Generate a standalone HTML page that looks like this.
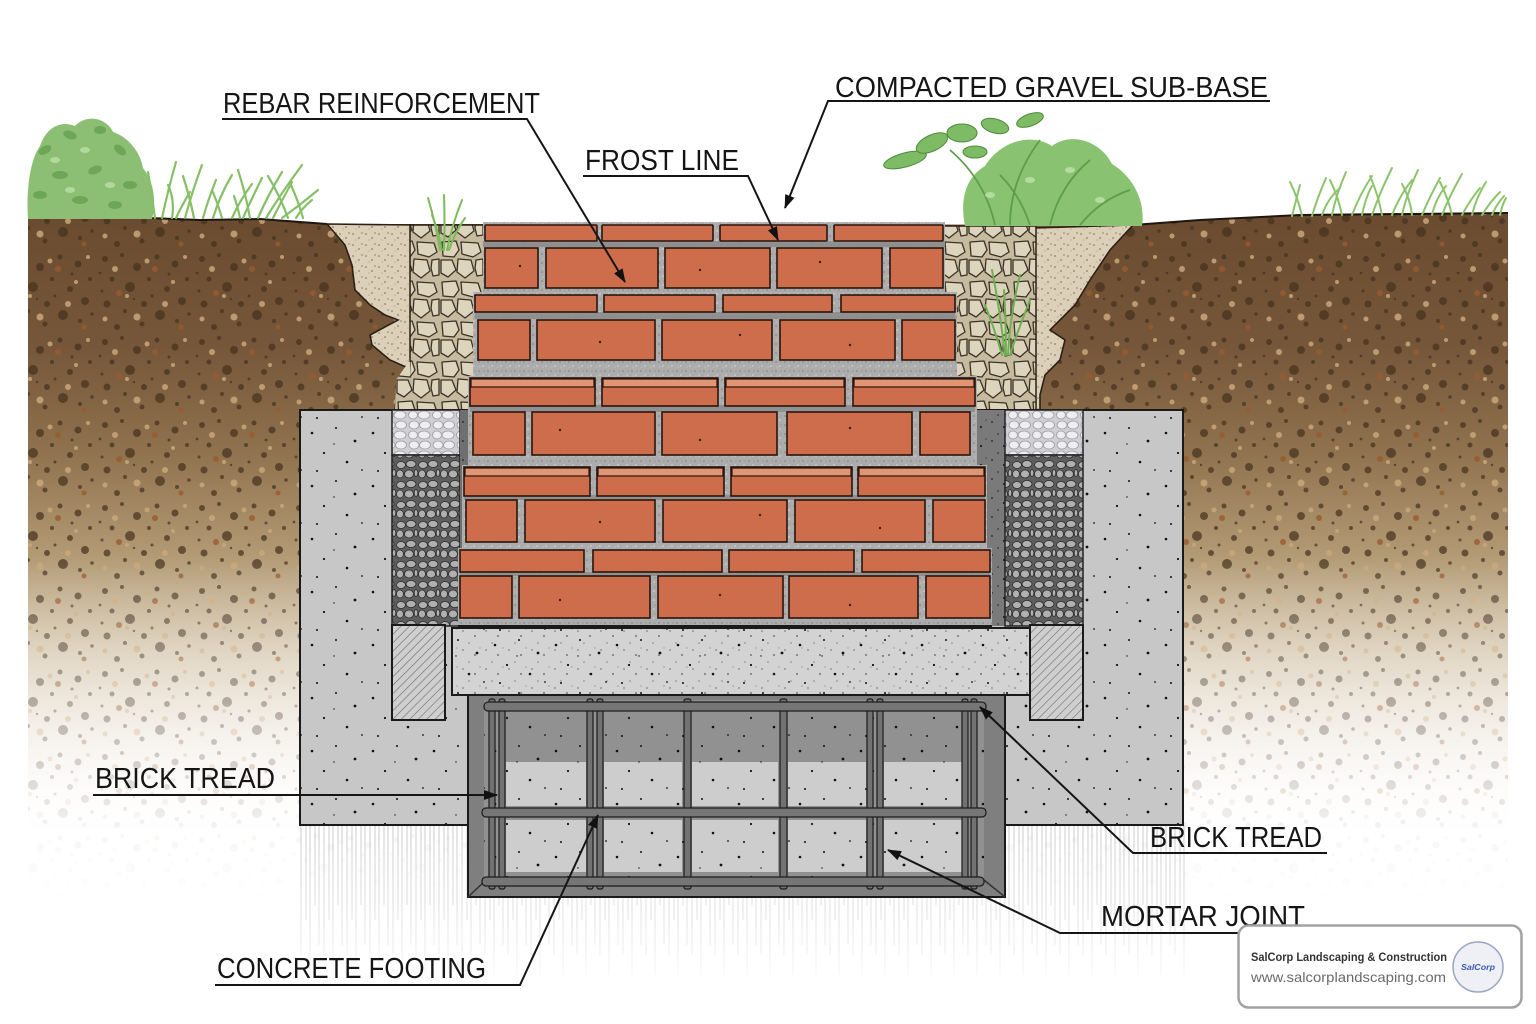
<!DOCTYPE html>
<html><head><meta charset="utf-8"><style>
html,body{margin:0;padding:0;background:#fff;width:1536px;height:1024px;overflow:hidden}
svg{display:block}
.lbl{font-family:"Liberation Sans",Arial,sans-serif;font-size:29px;fill:#151515}
</style></head><body>
<svg width="1536" height="1024" viewBox="0 0 1536 1024" xmlns="http://www.w3.org/2000/svg">
<defs>
<linearGradient id="soilG" x1="0" y1="210" x2="0" y2="900" gradientUnits="userSpaceOnUse">
<stop offset="0" stop-color="#6a4b2f"/>
<stop offset="0.2" stop-color="#76573a"/>
<stop offset="0.35" stop-color="#8f724e"/>
<stop offset="0.5" stop-color="#b29a74"/>
<stop offset="0.64" stop-color="#d3c4a9"/>
<stop offset="0.8" stop-color="#eee8df"/>
<stop offset="0.9" stop-color="#fbfaf8"/>
<stop offset="1" stop-color="#ffffff"/>
</linearGradient>
<linearGradient id="fadeW" x1="0" y1="560" x2="0" y2="900" gradientUnits="userSpaceOnUse">
<stop offset="0" stop-color="#fff" stop-opacity="0"/>
<stop offset="0.45" stop-color="#fff" stop-opacity="0.5"/>
<stop offset="0.8" stop-color="#fff" stop-opacity="0.94"/>
<stop offset="1" stop-color="#fff" stop-opacity="1"/>
</linearGradient>
<linearGradient id="hatchFade" x1="0" y1="825" x2="0" y2="1000" gradientUnits="userSpaceOnUse">
<stop offset="0" stop-color="#fff" stop-opacity="0.9"/>
<stop offset="0.55" stop-color="#fff" stop-opacity="0.45"/>
<stop offset="1" stop-color="#fff" stop-opacity="0"/>
</linearGradient>
<mask id="hatchMask"><rect x="0" y="820" width="1536" height="200" fill="url(#hatchFade)"/></mask>

<pattern id="soilDots" width="97" height="83" patternUnits="userSpaceOnUse">
<g fill="#45301d" fill-opacity="0.7">
<circle cx="8" cy="10" r="3"/><circle cx="25" cy="6" r="2"/><circle cx="40" cy="18" r="4"/><circle cx="60" cy="8" r="2.5"/>
<circle cx="78" cy="15" r="3.5"/><circle cx="90" cy="30" r="2"/><circle cx="15" cy="30" r="2.5"/><circle cx="33" cy="38" r="5"/>
<circle cx="52" cy="30" r="2"/><circle cx="70" cy="40" r="3"/><circle cx="85" cy="52" r="4"/><circle cx="10" cy="55" r="3.5"/>
<circle cx="28" cy="62" r="2"/><circle cx="47" cy="55" r="3"/><circle cx="63" cy="66" r="5"/><circle cx="80" cy="72" r="2"/>
<circle cx="20" cy="78" r="3"/><circle cx="45" cy="75" r="2.5"/><circle cx="5" cy="42" r="1.5"/><circle cx="55" cy="47" r="1.5"/>
<circle cx="92" cy="65" r="1.8"/><circle cx="37" cy="50" r="1.2"/><circle cx="72" cy="25" r="1.5"/><circle cx="3" cy="24" r="1.4"/>
</g>
<g fill="#c9a77a" fill-opacity="0.85">
<circle cx="18" cy="20" r="3"/><circle cx="50" cy="12" r="2.5"/><circle cx="68" cy="55" r="3"/><circle cx="30" cy="47" r="2"/>
<circle cx="88" cy="8" r="2"/><circle cx="40" cy="68" r="3.5"/><circle cx="8" cy="70" r="2.5"/><circle cx="76" cy="33" r="2"/>
</g>
<g fill="#9a5a2e" fill-opacity="0.8"><circle cx="58" cy="20" r="3"/><circle cx="22" cy="44" r="3"/><circle cx="84" cy="78" r="2.5"/></g>
</pattern>

<pattern id="speck" width="61" height="53" patternUnits="userSpaceOnUse">
<g fill="#111"><circle cx="7" cy="9" r="1.3"/><circle cx="31" cy="4" r="1"/><circle cx="50" cy="17" r="1.4"/><circle cx="19" cy="29" r="1.1"/>
<circle cx="42" cy="38" r="1.3"/><circle cx="57" cy="46" r="0.9"/><circle cx="12" cy="47" r="1"/><circle cx="29" cy="20" r="0.7"/></g>
</pattern>
<pattern id="speckFine" width="23" height="19" patternUnits="userSpaceOnUse">
<g fill="#222"><circle cx="3" cy="4" r="0.9"/><circle cx="15" cy="9" r="1.1"/><circle cx="9" cy="16" r="0.8"/><circle cx="20" cy="2" r="0.6"/></g>
</pattern>
<pattern id="mortar" width="9" height="9" patternUnits="userSpaceOnUse">
<rect width="9" height="9" fill="#acacac"/><circle cx="2" cy="2" r="0.8" fill="#7e7e7e"/><circle cx="6" cy="6" r="0.8" fill="#d8d8d8"/><circle cx="7" cy="2" r="0.6" fill="#888"/><circle cx="3" cy="7" r="0.6" fill="#ccc"/>
</pattern>
<pattern id="sand" width="13" height="11" patternUnits="userSpaceOnUse">
<rect width="13" height="11" fill="#dcd1b8"/><circle cx="2" cy="3" r="0.8" fill="#7a6a52"/><circle cx="8" cy="7" r="0.9" fill="#8f7f66"/><circle cx="11" cy="2" r="0.6" fill="#5e513f"/><circle cx="5" cy="9" r="0.6" fill="#a99a80"/>
</pattern>
<pattern id="stones" width="44" height="40" patternUnits="userSpaceOnUse">
<rect width="44" height="40" fill="#c7bb9f"/>
<g fill="#ddd4be" stroke="#3a3224" stroke-width="1.3" stroke-linejoin="round">
<path d="M2,2 L16,1 L19,10 L14,17 L3,16 Z"/>
<path d="M21,2 L38,3 L41,12 L33,17 L22,14 Z"/>
<path d="M1,20 L12,20 L16,30 L8,37 L1,33 Z"/>
<path d="M18,19 L31,20 L34,31 L25,38 L17,32 Z"/>
<path d="M36,20 L43,19 L43,35 L37,36 L35,28 Z"/>
</g>
</pattern>
<pattern id="darkGravel" width="22" height="20" patternUnits="userSpaceOnUse">
<rect width="22" height="20" fill="#5e5e5e"/>
<g fill="#b0b0b0" stroke="#2b2b2b" stroke-width="0.8">
<ellipse cx="5" cy="5" rx="4.5" ry="3.5"/><ellipse cx="15" cy="4" rx="5" ry="3.5"/><ellipse cx="4" cy="14" rx="3.5" ry="4"/><ellipse cx="13" cy="14" rx="4.5" ry="4"/><ellipse cx="20" cy="13" rx="1.8" ry="3.5"/>
</g>
</pattern>
<pattern id="lightGravel" width="24" height="20" patternUnits="userSpaceOnUse">
<rect width="24" height="20" fill="#cfd0d4"/>
<g fill="#eeeef1" stroke="#9b9b9f" stroke-width="0.8">
<ellipse cx="6" cy="5" rx="5" ry="4"/><ellipse cx="17" cy="5" rx="5.5" ry="4"/><ellipse cx="5" cy="15" rx="4.5" ry="4"/><ellipse cx="16" cy="15" rx="6" ry="4"/>
</g>
</pattern>
<pattern id="hatch" width="6" height="6" patternUnits="userSpaceOnUse" patternTransform="rotate(45)">
<rect width="6" height="6" fill="#cfcfcf"/><line x1="0" y1="0" x2="0" y2="6" stroke="#6e6e6e" stroke-width="1.2"/>
</pattern>
<pattern id="vlines" x="0" y="825" width="23" height="200" patternUnits="userSpaceOnUse">
<g stroke="#bdbdbd" stroke-width="0.9">
<line x1="2" y1="0" x2="2" y2="130"/><line x1="7" y1="0" x2="7" y2="95"/><line x1="11" y1="0" x2="11" y2="150"/>
<line x1="16" y1="0" x2="16" y2="80"/><line x1="20" y1="0" x2="20" y2="120"/>
</g>
</pattern>
<marker id="arr" markerUnits="userSpaceOnUse" markerWidth="14" markerHeight="10" refX="13" refY="5" orient="auto">
<path d="M0,0 L14,5 L0,10 Z" fill="#111"/>
</marker>
<clipPath id="soilClip">
<path d="M28,218 L100,216 L200,220 L260,219 L327,224 L700,224 L1133,225 L1200,220 L1300,215 L1508,213 L1508,910 L28,910 Z"/>
</clipPath>
</defs>

<!-- SOIL -->
<g clip-path="url(#soilClip)">
<rect x="28" y="205" width="1480" height="705" fill="url(#soilG)"/>
<rect x="28" y="205" width="1480" height="705" fill="url(#soilDots)"/>
<rect x="28" y="560" width="1480" height="350" fill="url(#fadeW)"/>
</g>
<path d="M28,218 L100,216 L200,220 L260,219 L327,224" fill="none" stroke="#1e1610" stroke-width="2"/>
<path d="M1133,225 L1200,220 L1300,215 L1508,213" fill="none" stroke="#1e1610" stroke-width="2"/>

<!-- vertical hatch below -->
<rect x="300" y="825" width="885" height="185" fill="url(#vlines)" mask="url(#hatchMask)"/>

<!-- SAND left -->
<path d="M327,224 L412,225 L412,410 L395,410 L398,385 L410,375 L408,368 L390,360 L372,345 L370,335 L398,320 L385,315 L370,305 L355,290 L352,265 L345,245 Z" fill="url(#sand)" stroke="#2a2016" stroke-width="1.6"/>
<!-- SAND right -->
<path d="M1035,228 L1133,225 L1110,250 L1090,280 L1075,305 L1050,330 L1065,340 L1060,360 L1045,375 L1040,395 L1040,410 L1035,410 Z" fill="url(#sand)" stroke="#2a2016" stroke-width="1.6"/>

<!-- STONE columns -->
<rect x="410" y="225" width="74" height="186" fill="url(#stones)" stroke="#2a2016" stroke-width="1.5"/>
<path d="M410,360 L396,380 L395,410 L412,410 Z" fill="url(#stones)"/>
<rect x="943" y="226" width="93" height="185" fill="url(#stones)" stroke="#2a2016" stroke-width="1.5"/>

<!-- CONCRETE U -->
<path d="M300,410 L1183,410 L1183,825 L1005,825 L1005,897 L468,897 L468,825 L300,825 Z" fill="#c7c7c7" stroke="#1a1a1a" stroke-width="2"/>
<path d="M300,410 L1183,410 L1183,825 L300,825 Z" fill="url(#speck)"/>

<!-- inner gravel cells -->
<rect x="392" y="410" width="68" height="45" fill="url(#lightGravel)" stroke="#222" stroke-width="1.5"/>
<rect x="392" y="455" width="68" height="171" fill="url(#darkGravel)" stroke="#222" stroke-width="1.5"/>
<rect x="460" y="410" width="14" height="216" fill="#6f6f6f"/>
<rect x="460" y="410" width="14" height="216" fill="url(#speckFine)"/>
<rect x="972" y="410" width="34" height="216" fill="#7a7a7a"/>
<rect x="972" y="410" width="34" height="216" fill="url(#speckFine)"/>
<rect x="1005" y="410" width="78" height="45" fill="url(#lightGravel)" stroke="#222" stroke-width="1.5"/>
<rect x="1005" y="455" width="78" height="171" fill="url(#darkGravel)" stroke="#222" stroke-width="1.5"/>

<!-- MORTAR + BRICKS -->
<path d="M483,222 L945,222 L945,292 L957,292 L957,376 L977,376 L977,465 L987,465 L987,548 L992,548 L992,626 L458,626 L458,548 L462,548 L462,465 L468,465 L468,376 L473,376 L473,292 L483,292 Z" fill="url(#mortar)"/>
<g fill="#8a8a8a" opacity="0.8">
<rect x="483" y="241" width="462" height="6"/><rect x="475" y="312" width="480" height="7"/><rect x="470" y="405" width="505" height="7"/><rect x="464" y="495" width="521" height="5"/><rect x="460" y="572" width="530" height="4"/>
</g>
<g fill="#cd6d4c" stroke="#2a150c" stroke-width="1.6">
<rect x="485" y="225" width="112" height="16" rx="1"/><rect x="602" y="225" width="111" height="16" rx="1"/><rect x="720" y="225" width="107" height="16" rx="1"/><rect x="834" y="225" width="109" height="16" rx="1"/>
<rect x="485" y="248" width="53" height="40"/><rect x="546" y="248" width="112" height="40"/><rect x="665" y="248" width="105" height="40"/><rect x="777" y="248" width="105" height="40"/><rect x="890" y="248" width="53" height="40"/>
<rect x="475" y="295" width="122" height="17"/><rect x="604" y="295" width="111" height="17"/><rect x="723" y="295" width="109" height="17"/><rect x="841" y="295" width="114" height="17"/>
<rect x="478" y="320" width="52" height="40"/><rect x="537" y="320" width="118" height="40"/><rect x="662" y="320" width="110" height="40"/><rect x="780" y="320" width="115" height="40"/><rect x="902" y="320" width="53" height="40"/>
<rect x="470" y="378" width="125" height="28"/><rect x="602" y="378" width="116" height="28"/><rect x="725" y="378" width="120" height="28"/><rect x="853" y="378" width="122" height="28"/>
<rect x="473" y="412" width="52" height="43"/><rect x="532" y="412" width="123" height="43"/><rect x="662" y="412" width="115" height="43"/><rect x="787" y="412" width="125" height="43"/><rect x="920" y="412" width="50" height="43"/>
<rect x="464" y="467" width="126" height="29"/><rect x="597" y="467" width="127" height="29"/><rect x="731" y="467" width="121" height="29"/><rect x="858" y="467" width="127" height="29"/>
<rect x="466" y="500" width="51" height="42"/><rect x="525" y="500" width="130" height="42"/><rect x="663" y="500" width="124" height="42"/><rect x="795" y="500" width="130" height="42"/><rect x="933" y="500" width="52" height="42"/>
<rect x="460" y="550" width="124" height="22"/><rect x="593" y="550" width="129" height="22"/><rect x="729" y="550" width="125" height="22"/><rect x="862" y="550" width="128" height="22"/>
<rect x="460" y="576" width="52" height="42"/><rect x="519" y="576" width="131" height="42"/><rect x="658" y="576" width="125" height="42"/><rect x="789" y="576" width="129" height="42"/><rect x="926" y="576" width="64" height="42"/>
</g>
<g fill="#e09574" stroke="#2a150c" stroke-width="1.2">
<rect x="471" y="379" width="123" height="8"/><rect x="603" y="379" width="114" height="8"/><rect x="726" y="379" width="118" height="8"/><rect x="854" y="379" width="120" height="8"/>
<rect x="465" y="468" width="124" height="8"/><rect x="598" y="468" width="125" height="8"/><rect x="732" y="468" width="119" height="8"/><rect x="859" y="468" width="125" height="8"/>
</g>
<g fill="#3a1f12">
<circle cx="520" cy="266" r="1.2"/><circle cx="700" cy="270" r="1.2"/><circle cx="820" cy="262" r="1.2"/><circle cx="600" cy="342" r="1.2"/><circle cx="740" cy="335" r="1.2"/>
<circle cx="850" cy="345" r="1.2"/><circle cx="560" cy="430" r="1.2"/><circle cx="700" cy="440" r="1.2"/><circle cx="850" cy="428" r="1.2"/><circle cx="600" cy="522" r="1.2"/>
<circle cx="760" cy="515" r="1.2"/><circle cx="880" cy="528" r="1.2"/><circle cx="560" cy="600" r="1.2"/><circle cx="720" cy="595" r="1.2"/><circle cx="850" cy="605" r="1.2"/>
</g>
<line x1="458" y1="626" x2="992" y2="626" stroke="#1a1a1a" stroke-width="2"/>

<!-- HATCH blocks + slab -->
<rect x="392" y="625" width="53" height="95" fill="url(#hatch)" stroke="#1a1a1a" stroke-width="2"/>
<rect x="1030" y="625" width="53" height="95" fill="url(#hatch)" stroke="#1a1a1a" stroke-width="2"/>
<rect x="452" y="628" width="578" height="67" fill="#d3d3d3" stroke="#1a1a1a" stroke-width="2"/>
<rect x="452" y="628" width="578" height="67" fill="url(#speck)"/>
<rect x="452" y="628" width="578" height="67" fill="url(#speckFine)" opacity="0.45"/>

<!-- REBAR PIT -->
<rect x="468" y="695" width="537" height="202" fill="#7f7f7f" stroke="#1a1a1a" stroke-width="2"/>
<rect x="484" y="700" width="500" height="182" fill="#919191"/>
<g fill="#cdcdcd">
<rect x="506" y="762" width="80" height="44"/><rect x="604" y="762" width="78" height="44"/><rect x="692" y="762" width="86" height="44"/><rect x="788" y="762" width="78" height="44"/><rect x="884" y="762" width="78" height="44"/>
<rect x="506" y="820" width="80" height="52"/><rect x="604" y="820" width="78" height="52"/><rect x="692" y="820" width="86" height="52"/><rect x="788" y="820" width="78" height="52"/><rect x="884" y="820" width="78" height="52"/>
</g>
<rect x="484" y="700" width="500" height="182" fill="url(#speck)"/>
<path d="M468,897 L486,880 M1005,897 L984,880" stroke="#333" stroke-width="1.5"/>
<g fill="#727272" stroke="#1c1c1c" stroke-width="1.2">
<rect x="489" y="699" width="6" height="190" rx="2"/><rect x="499" y="699" width="6" height="190" rx="2"/>
<rect x="587" y="699" width="6" height="190" rx="2"/><rect x="597" y="699" width="6" height="190" rx="2"/>
<rect x="684" y="699" width="7" height="190" rx="2"/>
<rect x="780" y="699" width="7" height="190" rx="2"/>
<rect x="867" y="699" width="6" height="190" rx="2"/><rect x="877" y="699" width="6" height="190" rx="2"/>
<rect x="962" y="699" width="6" height="190" rx="2"/><rect x="971" y="699" width="6" height="190" rx="2"/>
</g>
<g fill="#767676" stroke="#1c1c1c" stroke-width="1.2">
<rect x="484" y="702" width="502" height="9" rx="4"/>
<rect x="482" y="808" width="504" height="9" rx="4"/>
<rect x="482" y="877" width="502" height="9" rx="4"/>
</g>

<!-- PLANTS -->
<path d="M28,219 C26,190 30,160 40,146 C46,128 60,120 75,126 C86,114 106,117 113,132 C126,136 140,150 143,168 C153,180 157,200 152,219 Z" fill="#8cbf74"/>
<g fill="#6ea657">
<ellipse cx="45" cy="150" rx="7" ry="4" transform="rotate(-30 45 150)"/><ellipse cx="70" cy="135" rx="7" ry="4" transform="rotate(20 70 135)"/>
<ellipse cx="100" cy="130" rx="6" ry="4"/><ellipse cx="120" cy="150" rx="7" ry="4" transform="rotate(40 120 150)"/>
<ellipse cx="60" cy="175" rx="8" ry="4"/><ellipse cx="95" cy="170" rx="7" ry="4" transform="rotate(-20 95 170)"/>
<ellipse cx="130" cy="185" rx="7" ry="4"/><ellipse cx="40" cy="195" rx="7" ry="4"/><ellipse cx="80" cy="200" rx="8" ry="4"/><ellipse cx="115" cy="205" rx="7" ry="4"/>
</g>
<g fill="#b2d99c">
<ellipse cx="55" cy="160" rx="5" ry="3"/><ellipse cx="85" cy="150" rx="5" ry="3"/><ellipse cx="110" cy="185" rx="5" ry="3"/><ellipse cx="70" cy="190" rx="5" ry="3"/>
</g>
<g fill="none" stroke="#86c066" stroke-width="2.2" stroke-linecap="round">
<path d="M155,218 Q152,195 148,172"/><path d="M162,218 Q168,190 176,162"/><path d="M172,218 Q175,200 168,185"/>
<path d="M185,218 Q192,192 202,165"/><path d="M194,218 Q190,198 183,176"/><path d="M203,218 Q208,200 216,180"/>
<path d="M213,218 Q220,195 232,175"/><path d="M222,218 Q218,204 212,190"/><path d="M232,218 Q240,200 252,184"/>
<path d="M243,218 Q252,198 262,178"/><path d="M250,218 Q246,195 238,170"/><path d="M258,218 Q268,195 282,172"/>
<path d="M266,218 Q282,192 302,165"/><path d="M273,218 Q282,200 292,182"/><path d="M282,218 Q300,205 318,190"/>
<path d="M288,218 Q280,196 268,176"/><path d="M296,218 Q302,208 312,200"/><path d="M303,218 Q298,200 290,183"/>
<path d="M176,218 Q182,205 190,192"/><path d="M240,218 Q238,208 234,196"/>
</g>
<g fill="none" stroke="#7cbb5c" stroke-width="2" stroke-linecap="round">
<path d="M440,250 Q436,225 428,198"/><path d="M444,250 Q445,225 444,195"/><path d="M447,250 Q452,225 462,200"/><path d="M442,250 Q438,230 432,215"/><path d="M449,250 Q455,232 465,218"/>
</g>
<g fill="#7dbb64" stroke="#4f8a3c" stroke-width="1">
<ellipse cx="905" cy="160" rx="22" ry="7" transform="rotate(-15 905 160)"/>
<ellipse cx="932" cy="143" rx="17" ry="8" transform="rotate(-25 932 143)"/>
<ellipse cx="962" cy="133" rx="15" ry="9"/>
<ellipse cx="995" cy="126" rx="14" ry="7" transform="rotate(15 995 126)"/>
<ellipse cx="1030" cy="120" rx="14" ry="6" transform="rotate(-20 1030 120)"/>
<ellipse cx="975" cy="152" rx="12" ry="6"/>
</g>
<path d="M965,226 C960,200 965,178 985,166 C1000,142 1030,132 1052,146 C1070,132 1100,140 1112,164 C1132,176 1146,200 1142,226 Z" fill="#89c271"/>
<g fill="none" stroke="#5f9e48" stroke-width="1.8">
<path d="M995,225 Q985,180 950,150"/><path d="M1010,225 Q1010,180 1040,140"/><path d="M1050,225 Q1060,185 1090,160"/><path d="M1080,225 Q1100,200 1130,190"/><path d="M1030,225 Q1020,195 1000,175"/>
</g>
<g fill="#b5dca0"><ellipse cx="1030" cy="180" rx="5" ry="3"/><ellipse cx="1070" cy="170" rx="5" ry="3"/><ellipse cx="1100" cy="200" rx="5" ry="3"/><ellipse cx="990" cy="195" rx="5" ry="3"/></g>
<g fill="none" stroke="#6fb053" stroke-width="2" stroke-linecap="round">
<path d="M1005,355 Q1000,310 992,270"/><path d="M1008,355 Q1010,315 1020,275"/><path d="M1002,355 Q995,330 985,305"/><path d="M1010,355 Q1018,330 1030,300"/><path d="M1006,355 Q1006,320 1004,290"/>
</g>
<g fill="none" stroke="#8cc46c" stroke-width="2" stroke-linecap="round">
<path d="M1292,216 Q1296,200 1300,185"/><path d="M1302,216 Q1298,198 1290,182"/><path d="M1312,216 Q1318,196 1326,178"/><path d="M1322,215 Q1328,198 1340,188"/>
<path d="M1332,215 Q1336,195 1346,172"/><path d="M1342,215 Q1338,196 1330,180"/><path d="M1352,215 Q1360,194 1372,176"/><path d="M1362,215 Q1366,196 1372,186"/>
<path d="M1372,215 Q1380,192 1392,168"/><path d="M1382,215 Q1378,194 1370,176"/><path d="M1392,215 Q1400,195 1412,180"/><path d="M1402,215 Q1406,196 1418,170"/>
<path d="M1412,215 Q1410,198 1402,184"/><path d="M1422,215 Q1430,196 1440,178"/><path d="M1432,215 Q1436,198 1446,186"/><path d="M1442,215 Q1450,195 1462,174"/>
<path d="M1452,215 Q1448,198 1440,182"/><path d="M1462,215 Q1470,200 1480,188"/><path d="M1472,215 Q1476,198 1486,182"/><path d="M1482,215 Q1490,202 1500,192"/>
<path d="M1492,215 Q1496,205 1504,196"/><path d="M1500,215 Q1502,205 1506,198"/>
</g>

<!-- LABELS -->
<g class="lbl">
<text x="223" y="113" textLength="317" lengthAdjust="spacingAndGlyphs">REBAR REINFORCEMENT</text>
<text x="835" y="97" textLength="433" lengthAdjust="spacingAndGlyphs">COMPACTED GRAVEL SUB-BASE</text>
<text x="585" y="170" textLength="154" lengthAdjust="spacingAndGlyphs">FROST LINE</text>
<text x="95" y="788" textLength="180" lengthAdjust="spacingAndGlyphs">BRICK TREAD</text>
<text x="1150" y="847" textLength="172" lengthAdjust="spacingAndGlyphs">BRICK TREAD</text>
<text x="1101" y="926" textLength="204" lengthAdjust="spacingAndGlyphs">MORTAR JOINT</text>
<text x="217" y="978" textLength="269" lengthAdjust="spacingAndGlyphs">CONCRETE FOOTING</text>
</g>
<g fill="none" stroke="#151515" stroke-width="2">
<polyline points="222,119 527,119 625,282" marker-end="url(#arr)"/>
<polyline points="1270,101 828,101 785,208" marker-end="url(#arr)"/>
<polyline points="583,176 748,176 778,240" marker-end="url(#arr)"/>
<polyline points="93,795 497,795" marker-end="url(#arr)"/>
<polyline points="1327,853 1133,853 980,707" marker-end="url(#arr)"/>
<polyline points="1240,933 1060,933 888,850" marker-end="url(#arr)"/>
<polyline points="215,985 520,985 598,815" marker-end="url(#arr)"/>
</g>

<!-- LOGO BOX -->
<rect x="1238.5" y="925.5" width="283" height="82" rx="10" fill="#fff" stroke="#a3a3a3" stroke-width="2.5"/>
<text x="1251" y="961" font-family="Liberation Sans, Arial, sans-serif" font-weight="bold" font-size="11.5" fill="#333" textLength="196" lengthAdjust="spacingAndGlyphs">SalCorp Landscaping &amp; Construction</text>
<text x="1251" y="982" font-family="Liberation Sans, Arial, sans-serif" font-size="14" fill="#6a6a6a" textLength="195" lengthAdjust="spacingAndGlyphs">www.salcorplandscaping.com</text>
<circle cx="1478" cy="967" r="25" fill="#eef0f6" stroke="#9aa6c2" stroke-width="1.5"/>
<text x="1478" y="970" text-anchor="middle" font-family="Liberation Sans, Arial, sans-serif" font-weight="bold" font-style="italic" font-size="8" fill="#3b5bb0" textLength="34" lengthAdjust="spacingAndGlyphs">SalCorp</text>
</svg>
</body></html>
